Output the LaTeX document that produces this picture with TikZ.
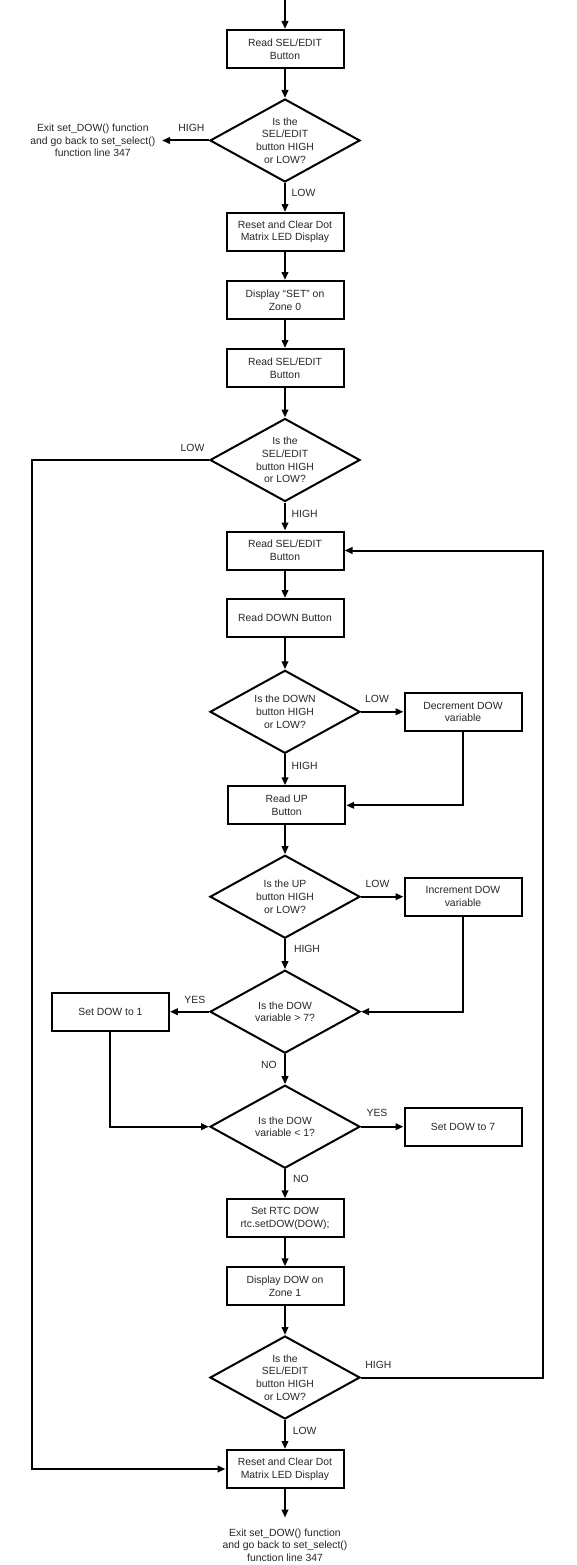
\documentclass[tikz,border=0pt]{standalone}
\usepackage{fontspec}
\setmainfont{Liberation Sans}
\usetikzlibrary{shapes.geometric,arrows.meta}
\begin{document}
\begin{tikzpicture}[x=1pt,y=-1pt,
  every node/.style={font=\fontsize{10.4}{12.6}\selectfont, text=black!85},
  box/.style={draw=black, line width=2pt, fill=white, minimum width=117pt, minimum height=38pt, inner sep=0pt, align=center},
  dia/.style={draw=black, line width=2pt, fill=white, diamond, aspect=1.8, minimum width=150pt, minimum height=83pt, inner sep=0pt, align=center},
  lbl/.style={inner sep=0pt},
  txt/.style={align=center, inner xsep=0pt},
  arr/.style={line width=2pt, -{Triangle[length=8pt,width=6.5pt]}}
]
\useasboundingbox (0,0) rectangle (576,1565);

\coordinate (top) at (285,0);
\node[box] (b1) at (285,49) {Read SEL/EDIT\\Button};
\node[dia] (d1) at (285,140.5) {Is the\\SEL/EDIT\\button HIGH\\or LOW?};
\node[txt, inner xsep=6.6pt] (exit1) at (92.8,140.5) {Exit set\_DOW() function\\and go back to set\_select()\\function line 347};
\node[box] (b2) at (285,232) {Reset and Clear Dot\\Matrix LED Display};
\node[box] (b3) at (285,300) {Display “SET” on\\Zone 0};
\node[box] (b4) at (285,368) {Read SEL/EDIT\\Button};
\node[dia] (d2) at (285,460) {Is the\\SEL/EDIT\\button HIGH\\or LOW?};
\node[box] (b5) at (285,550.5) {Read SEL/EDIT\\Button};
\node[box] (b6) at (285,618) {Read DOWN Button};
\node[dia] (d3) at (285,711.8) {Is the DOWN\\button HIGH\\or LOW?};
\node[box] (dec) at (463,711.8) {Decrement DOW\\variable};
\node[box] (b7) at (286.7,805.3) {Read UP\\Button};
\node[dia] (d4) at (285,896.7) {Is the UP\\button HIGH\\or LOW?};
\node[box] (inc) at (463,896.7) {Increment DOW\\variable};
\node[dia] (d5) at (285,1011.7) {Is the DOW\\variable > 7?};
\node[box] (set1) at (110.4,1011.7) {Set DOW to 1};
\node[dia] (d6) at (285,1126.7) {Is the DOW\\variable < 1?};
\node[box] (set7) at (463,1126.7) {Set DOW to 7};
\node[box] (b8) at (285,1218.3) {Set RTC DOW\\rtc.setDOW(DOW);};
\node[box] (b9) at (285,1286.3) {Display DOW on\\Zone 1};
\node[dia] (d7) at (285,1377.5) {Is the\\SEL/EDIT\\button HIGH\\or LOW?};
\node[box] (b10) at (285,1469) {Reset and Clear Dot\\Matrix LED Display};
\node[txt, inner ysep=11pt] (exit2) at (285,1545.2) {Exit set\_DOW() function\\and go back to set\_select()\\function line 347};

\coordinate (ll) at (32.3,460);
\coordinate (rr) at (543,550.5);

% labels
\node[lbl] at (191.4,128) {HIGH};
\node[lbl] at (303.5,193) {LOW};
\node[lbl] at (192.5,447.7) {LOW};
\node[lbl] at (304.7,514) {HIGH};
\node[lbl] at (377,699.3) {LOW};
\node[lbl] at (304.7,765.7) {HIGH};
\node[lbl] at (377.5,884) {LOW};
\node[lbl] at (307,949.3) {HIGH};
\node[lbl] at (194.9,1000) {YES};
\node[lbl] at (269,1065) {NO};
\node[lbl] at (377,1113.3) {YES};
\node[lbl] at (301,1179) {NO};
\node[lbl] at (378.4,1365) {HIGH};
\node[lbl] at (304.6,1430.7) {LOW};

% connectors
\draw[arr] (top) -- (b1.north);
\draw[arr] (b1.south) -- (d1.north);
\draw[arr] (d1.west) -- (exit1.east);
\draw[arr] (d1.south) -- (b2.north);
\draw[arr] (b2.south) -- (b3.north);
\draw[arr] (b3.south) -- (b4.north);
\draw[arr] (b4.south) -- (d2.north);
\draw[arr] (d2.south) -- (b5.north);
\draw[arr] (d2.west) -- (ll) |- (b10.west);
\draw[arr] (b5.south) -- (b6.north);
\draw[arr] (b6.south) -- (d3.north);
\draw[arr] (d3.east) -- (dec.west);
\draw[arr] (d3.south) -- (d3.south |- b7.north);
\draw[arr] (dec.south) |- (b7.east);
\draw[arr] (b7.south -| d4.north) -- (d4.north);
\draw[arr] (d4.east) -- (inc.west);
\draw[arr] (inc.south) |- (d5.east);
\draw[arr] (d4.south) -- (d5.north);
\draw[arr] (d5.west) -- (set1.east);
\draw[arr] (set1.south) |- (d6.west);
\draw[arr] (d5.south) -- (d6.north);
\draw[arr] (d6.east) -- (set7.west);
\draw[arr] (d6.south) -- (b8.north);
\draw[arr] (b8.south) -- (b9.north);
\draw[arr] (b9.south) -- (d7.north);
\draw[arr] (d7.east) -| (rr) -- (b5.east);
\draw[arr] (d7.south) -- (b10.north);
\draw[arr] (b10.south) -- (exit2.north);
\end{tikzpicture}
\end{document}
